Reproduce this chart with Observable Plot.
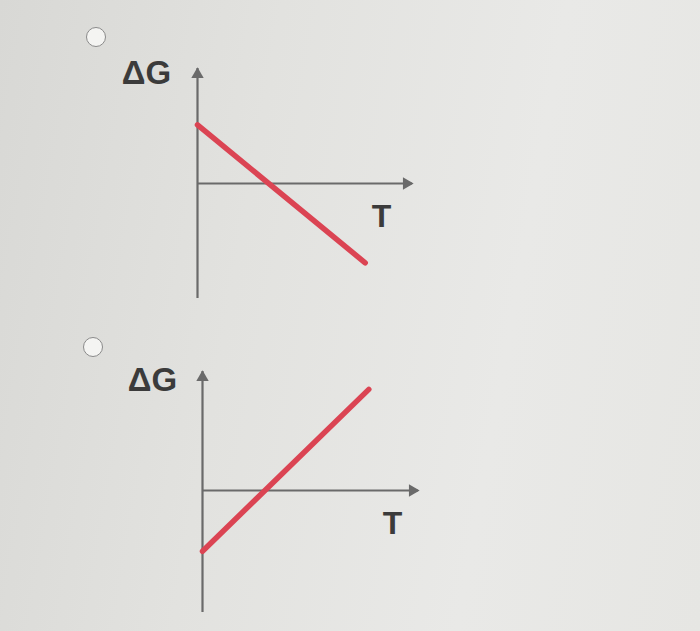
<!DOCTYPE html>
<html>
<head>
<meta charset="utf-8">
<script src="https://cdn.jsdelivr.net/npm/d3@7"></script>
<script src="https://cdn.jsdelivr.net/npm/@observablehq/plot@0.6"></script>
<style>
  html, body { margin: 0; padding: 0; }
  body {
    width: 700px; height: 631px; position: relative; overflow: hidden;
    background: linear-gradient(100deg, #d8d8d5 0%, #e2e2df 35%, #e9e9e7 70%, #e6e6e3 100%);
    font-family: "Liberation Sans", Arial, sans-serif;
  }
  .panel { position: absolute; left: 0; }
  .radio {
    position: absolute; width: 20px; height: 20px; border-radius: 50%;
    border: 1.3px solid #8a8a8a; background: #f4f4f2; box-sizing: border-box;
  }
</style>
</head>
<body>
<div class="radio" style="left:86px;top:27px"></div>
<div class="radio" style="left:83px;top:337px"></div>
<div id="top" class="panel" style="top:0px"></div>
<div id="bottom" class="panel" style="top:315px"></div>
<script>
// Axis labels
const yLabel = "ΔG";
const xLabel = "T";
// Domains of each small graph (T along x, ΔG along y)
const tDomain = [0, 10];
const gDomainTop = [-10, 10];
const gDomainBottom = [-10.25, 10];
// Red lines: T values and ΔG values at the two ends
const topT = [0, 7.8];
const topG = [5.1, -6.9];
const bottomT = [0, 7.7];
const bottomG = [-5.1, 8.5];

const axisColor = "#6a6a6a";
const red = "#db4453";

function panel(T, G, gDomain, opts) {
  const line = T.map((t, i) => ({T: t, G: G[i]}));
  return Plot.plot({
    width: 700,
    height: opts.height,
    marginLeft: opts.ml, marginRight: opts.mr, marginTop: opts.mt, marginBottom: opts.mb,
    x: {domain: tDomain, axis: null},
    y: {domain: gDomain, axis: null},
    style: {background: "transparent", overflow: "visible", fontFamily: "'Liberation Sans', Arial, sans-serif"},
    marks: [
      Plot.ruleX([0], {y1: gDomain[0], y2: gDomain[1], stroke: axisColor, strokeWidth: 2.2}),
      Plot.ruleY([0], {x1: tDomain[0], x2: tDomain[1], stroke: axisColor, strokeWidth: 2.2}),
      Plot.dot([{T: 0, G: gDomain[1]}], {x: "T", y: "G", symbol: "triangle", r: 4.6, fill: axisColor, stroke: "none", dy: 6}),
      Plot.dot([{T: tDomain[1], G: 0}], {x: "T", y: "G", symbol: "triangle", r: 4.6, fill: axisColor, stroke: "none", rotate: 90, dx: -6}),
      Plot.line(line, {x: "T", y: "G", stroke: red, strokeWidth: 5.5, strokeLinecap: "round"}),
      Plot.text([yLabel], {x: 0, y: gDomain[1], text: d => d, dx: opts.gdx, dy: opts.gdy, fontSize: 33, fontWeight: "bold", fill: "#3b3b3b", textAnchor: "middle", letterSpacing: "1px"}),
      Plot.text([xLabel], {x: tDomain[1], y: 0, text: d => d, dx: opts.tdx, dy: 33, fontSize: 32, fontWeight: "bold", fill: "#3b3b3b", textAnchor: "middle"})
    ]
  });
}

document.getElementById("top").append(
  panel(topT, topG, gDomainTop, {height: 315, ml: 197, mr: 288, mt: 68, mb: 17, gdx: -51, gdy: 5, tdx: -31})
);
document.getElementById("bottom").append(
  panel(bottomT, bottomG, gDomainBottom, {height: 316, ml: 202, mr: 282, mt: 56, mb: 19, gdx: -50, gdy: 9, tdx: -26})
);
</script>
</body>
</html>
